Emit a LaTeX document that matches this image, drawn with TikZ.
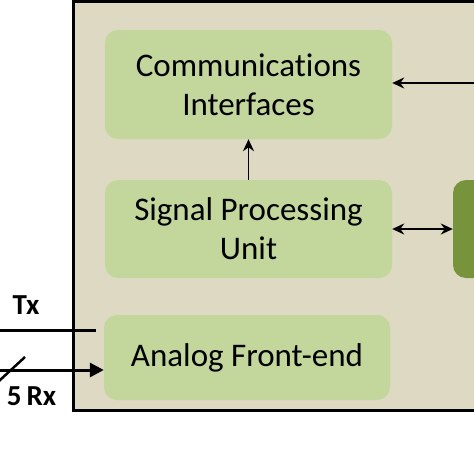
\documentclass[tikz,border=0pt]{standalone}
\usepackage{fontspec}
\setmainfont[RawFeature=-liga]{Carlito}
\usetikzlibrary{arrows.meta}
\definecolor{beige}{HTML}{DDD9C3}
\definecolor{lgreen}{HTML}{C3D69B}
\definecolor{dgreen}{HTML}{77933C}
\begin{document}
\begin{tikzpicture}[x=1pt,y=-1pt,
  block/.style={fill=lgreen,rounded corners=13pt,draw=none,align=center,
    font=\fontsize{33}{39}\selectfont,inner sep=0pt},
  thin arrow/.style={line width=1.8pt,-{Stealth[length=12pt,width=11pt]}},
  thick line/.style={line width=3pt},
  lbl/.style={font=\bfseries\fontsize{29}{30}\selectfont,anchor=base,inner sep=0pt}]
\useasboundingbox (0,0) rectangle (474,474);
\clip (0,0) rectangle (474,474);
\fill[white] (0,0) rectangle (474,474);
% outer frame
\draw[fill=beige,line width=3pt] (73,1.5) rectangle (520,410);
% blocks
\node[block,minimum width=287pt,minimum height=109pt] (comm) at (248.5,84.5) {Communications\\Interfaces};
\node[block,minimum width=287pt,minimum height=98pt] (spu) at (248.5,229) {Signal Processing\\Unit};
\node[block,minimum width=286pt,minimum height=85pt] (afe) at (247,357.5) {Analog Front-end};
\node[fill=dgreen,rounded corners=13pt,minimum width=100pt,minimum height=98pt,inner sep=0pt] (dsp) at (503,229) {};
% arrows
\coordinate (rin) at (480,83);
\draw[thin arrow] (rin) -- (comm.east |- rin);
\draw[line width=1.8pt,{Stealth[length=12pt,width=11pt]}-{Stealth[length=12pt,width=11pt]}] (spu.east) -- (dsp.west);
\draw[thin arrow] (spu.north) -- (comm.south);
% Tx / Rx
\coordinate (txs) at (0,330);
\coordinate (txe) at (96,330);
\draw[thick line] (txs) -- (txe);
\coordinate (rxs) at (0,370);
\coordinate (rxe) at (afe.west |- rxs);
\draw[thick line,-{Triangle[length=14pt,width=14pt]}] (rxs) -- (rxe);
\coordinate (sl1) at (-1,381);
\coordinate (sl2) at (25,357);
\draw[line width=2.5pt] (sl1) -- (sl2);
\node[lbl] (tx) at (26,314) {Tx};
\node[lbl] (rx) at (31.5,405) {5\hspace{5pt}Rx};
\end{tikzpicture}
\end{document}
